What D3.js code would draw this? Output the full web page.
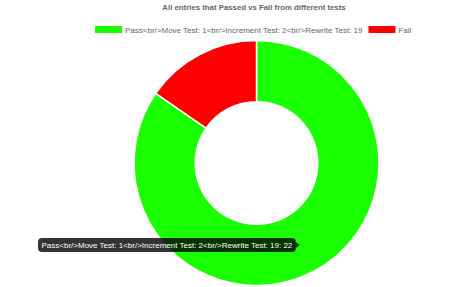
<!DOCTYPE html>
<html><head><meta charset="utf-8">
<script src="https://cdn.jsdelivr.net/npm/d3@7"></script>
<style>body{margin:0;background:#fff}svg{display:block}</style>
</head><body>
<svg id="c" width="474" height="287"></svg>
<script>
const title = "All entries that Passed vs Fail from different tests";
const labels = ["Pass<br/>Move Test: 1<br/>Increment Test: 2<br/>Rewrite Test: 19", "Fail"];
const values = [22, 4];
const colors = ["#1aff00", "#ff0000"];
const hovered = 0;

const W = 474, H = 287;
const svg = d3.select("#c");
const font = "Helvetica Neue, Helvetica, Arial, Liberation Sans, sans-serif";
const fs = 8;

svg.append("text").attr("x", 254).attr("y", 10)
  .attr("text-anchor", "middle").attr("font-family", font).attr("font-weight", "bold")
  .attr("font-size", 7.8).attr("fill", "#666").text(title);

// legend
const lg = svg.append("g");
let lx = 95;
labels.forEach((l, i) => {
  lg.append("rect").attr("x", lx).attr("y", 26).attr("width", 27).attr("height", 7)
    .attr("fill", colors[i]);
  const t = lg.append("text").attr("x", lx + 30).attr("y", 32.6)
    .attr("font-family", font).attr("font-size", fs).attr("fill", "#666").text(l);
  lx += 30 + t.node().getComputedTextLength() + 6;
});

const cx = 256.5, cy = 163, R = 122.5, r = 61.3;
const pie = d3.pie().sort(null).value(d => d);
const arc = d3.arc().innerRadius(r).outerRadius(R);
const g = svg.append("g").attr("transform", `translate(${cx},${cy})`);
g.selectAll("path").data(pie(values)).join("path")
  .attr("d", arc).attr("fill", (d, i) => colors[i])
  .attr("stroke", "#fff").attr("stroke-width", 1.5).attr("stroke-linejoin", "bevel");

// tooltip
const tt = svg.append("g");
const txt = labels[hovered] + ": " + values[hovered];
const tn = tt.append("text").attr("x", 41.5).attr("y", 247.8)
  .attr("font-family", font).attr("font-size", fs).attr("fill", "#fff").text(txt);
const tw = tn.node().getComputedTextLength();
const bx = 38, by = 238, bw = tw + 7, bh = 14, rr = 4;
tt.insert("path", "text").attr("fill", "rgba(0,0,0,0.8)")
  .attr("d", `M${bx+rr},${by} H${bx+bw-rr} Q${bx+bw},${by} ${bx+bw},${by+rr} V${by+bh/2-3} L${bx+bw+4},${by+bh/2} L${bx+bw},${by+bh/2+3} V${by+bh-rr} Q${bx+bw},${by+bh} ${bx+bw-rr},${by+bh} H${bx+rr} Q${bx},${by+bh} ${bx},${by+bh-rr} V${by+rr} Q${bx},${by} ${bx+rr},${by} Z`);
</script>
</body></html>
